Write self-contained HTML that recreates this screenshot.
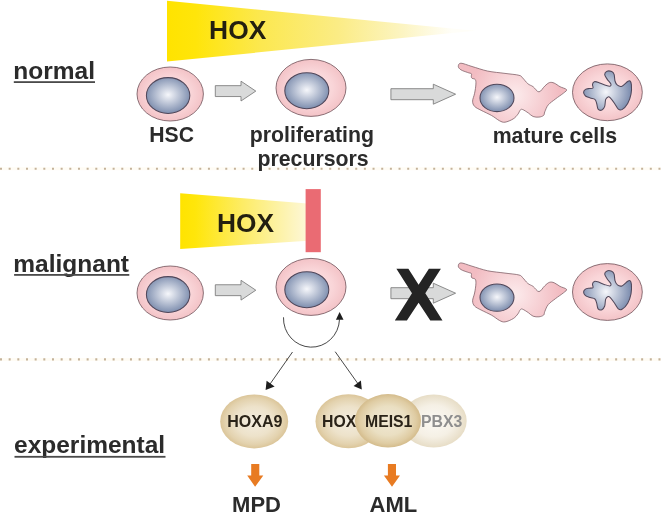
<!DOCTYPE html>
<html><head><meta charset="utf-8"><style>
html,body{margin:0;padding:0;background:#fff;}
svg{display:block;will-change:transform;}
text{font-family:"Liberation Sans",sans-serif;font-weight:bold;fill:#2b2b2b;}
</style></head><body>
<svg width="661" height="512" viewBox="0 0 661 512">
<defs>
  <linearGradient id="hox1" gradientUnits="userSpaceOnUse" x1="167" y1="0" x2="452" y2="0">
    <stop offset="0" stop-color="#ffe300"/>
    <stop offset="0.1" stop-color="#ffe50a"/>
    <stop offset="0.33" stop-color="#fce850"/>
    <stop offset="0.6" stop-color="#fbec85"/>
    <stop offset="0.82" stop-color="#fcf4c0"/>
    <stop offset="1" stop-color="#fffef8"/>
  </linearGradient>
  <linearGradient id="hox2" gradientUnits="userSpaceOnUse" x1="180" y1="0" x2="306" y2="0">
    <stop offset="0" stop-color="#ffe300"/>
    <stop offset="0.12" stop-color="#ffe60a"/>
    <stop offset="0.5" stop-color="#fdec66"/>
    <stop offset="1" stop-color="#fdf7d6"/>
  </linearGradient>
  <radialGradient id="ring" cx="0.5" cy="0.5" r="0.5">
    <stop offset="0" stop-color="#fce6e8"/>
    <stop offset="0.62" stop-color="#f9d5d8"/>
    <stop offset="1" stop-color="#f3c3c7"/>
  </radialGradient>
  <radialGradient id="nuc" cx="0.5" cy="0.48" r="0.55">
    <stop offset="0" stop-color="#f6f7fb"/>
    <stop offset="1" stop-color="#7788aa"/>
  </radialGradient>
  <radialGradient id="nucN" gradientUnits="userSpaceOnUse" cx="606" cy="92" r="26">
    <stop offset="0" stop-color="#f6f7fb"/>
    <stop offset="1" stop-color="#7788ab"/>
  </radialGradient>
  <radialGradient id="pinkg" gradientUnits="userSpaceOnUse" cx="515" cy="95" r="45">
    <stop offset="0" stop-color="#fcebec"/>
    <stop offset="1" stop-color="#f2bcc2"/>
  </radialGradient>
  <radialGradient id="tan" cx="0.5" cy="0.5" r="0.5">
    <stop offset="0" stop-color="#f3ede0"/>
    <stop offset="0.55" stop-color="#ede2ca"/>
    <stop offset="0.85" stop-color="#e3d2ae"/>
    <stop offset="1" stop-color="#dbc599"/>
  </radialGradient>
  <radialGradient id="tanM" cx="0.5" cy="0.5" r="0.5">
    <stop offset="0" stop-color="#f1e8d4"/>
    <stop offset="0.55" stop-color="#eadfc2"/>
    <stop offset="0.85" stop-color="#dfcca3"/>
    <stop offset="1" stop-color="#d4bc8c"/>
  </radialGradient>
  <radialGradient id="tanpale" cx="0.5" cy="0.5" r="0.5">
    <stop offset="0" stop-color="#fbf9f4"/>
    <stop offset="0.6" stop-color="#f5f0e5"/>
    <stop offset="1" stop-color="#e7ddc6"/>
  </radialGradient>
  <g id="cellA">
    <ellipse cx="0" cy="0" rx="33.2" ry="27" fill="url(#ring)" stroke="#6e5058" stroke-width="0.8"/>
    <ellipse cx="-2.1" cy="1.5" rx="21.7" ry="17.9" fill="url(#nuc)" stroke="#50475a" stroke-width="1.05"/>
  </g>
  <g id="cellB">
    <ellipse cx="0" cy="0" rx="35" ry="28.5" fill="url(#ring)" stroke="#6e5058" stroke-width="0.8"/>
    <ellipse cx="-4.2" cy="2.8" rx="22" ry="18" fill="url(#nuc)" stroke="#50475a" stroke-width="1.05"/>
  </g>
  <g id="arrowG">
    <path d="M0 -5.45 H25.7 V-9.9 L40.5 0 L25.7 9.9 V5.45 H0 Z" fill="#d9dada" stroke="#7a7a7a" stroke-width="0.85" stroke-linejoin="miter"/>
  </g>
  <g id="arrowL">
    <path d="M0 -5.5 H42.4 V-10 L64.7 0 L42.4 10 V5.5 H0 Z" fill="#d9dada" stroke="#7a7a7a" stroke-width="0.85"/>
  </g>
  <g id="mature">
    <path d="M460.9 63.2 C463.2 63.2 467.5 65.2 472.0 66.5 C476.5 67.8 482.2 69.9 487.7 71.1 C493.2 72.2 499.8 72.7 505.0 73.4 C510.2 74.1 516.1 74.5 519.0 75.3 C521.9 76.0 521.1 76.5 522.6 77.9 C524.1 79.3 526.0 82.2 527.8 83.7 C529.5 85.2 531.2 85.3 533.1 86.7 C535.0 88.1 537.0 92.0 539.0 91.9 C541.0 91.8 543.0 87.6 544.8 86.1 C546.5 84.5 547.9 83.1 549.5 82.6 C551.1 82.1 552.5 82.4 554.2 83.1 C556.0 83.8 558.0 85.6 560.0 86.7 C562.0 87.8 565.9 88.5 566.5 89.6 C567.1 90.7 565.4 91.5 563.5 93.1 C561.6 94.7 557.9 97.0 555.4 99.0 C552.9 101.0 550.1 102.7 548.3 104.8 C546.5 106.9 545.6 110.0 544.8 111.8 C544.0 113.6 544.6 114.5 543.6 115.4 C542.6 116.3 540.8 116.9 539.0 117.1 C537.2 117.3 534.9 117.2 533.1 116.5 C531.3 115.8 530.1 114.2 528.4 113.0 C526.6 111.8 524.0 110.0 522.6 109.5 C521.2 109.0 521.0 109.3 520.2 110.1 C519.4 110.9 519.1 112.7 517.9 114.2 C516.7 115.7 515.4 117.6 513.2 118.9 C511.1 120.2 507.3 121.9 505.0 122.2 C502.7 122.5 501.6 121.8 499.4 120.7 C497.2 119.6 494.7 117.2 491.6 115.5 C488.6 113.8 483.9 111.8 481.1 110.3 C478.3 108.8 476.0 107.9 474.6 106.4 C473.2 104.9 472.6 103.3 472.6 101.1 C472.6 98.9 474.1 96.1 474.6 93.3 C475.2 90.5 475.8 86.4 475.9 84.1 C476.0 81.8 475.9 80.6 475.3 79.6 C474.7 78.6 472.7 78.8 472.0 78.3 C471.3 77.8 471.4 77.1 471.3 76.3 C471.2 75.5 472.0 74.3 471.3 73.7 C470.6 73.1 469.1 73.1 467.4 72.4 C465.7 71.8 462.4 70.8 460.9 69.8 C459.4 68.8 458.3 67.6 458.3 66.5 C458.3 65.4 458.6 63.2 460.9 63.2 Z" fill="url(#pinkg)" stroke="#7a5a62" stroke-width="0.75" stroke-linejoin="round"/>
    <ellipse cx="497" cy="97.9" rx="17" ry="13.7" fill="url(#nuc)" stroke="#50475a" stroke-width="1.05"/>
    <ellipse cx="607.4" cy="92.3" rx="34.9" ry="28.4" fill="url(#ring)" stroke="#6e5058" stroke-width="0.8"/>
    <path d="M583.6 92.2 C583.6 91.1 584.6 90.0 585.5 89.4 C586.4 88.8 588.0 88.7 589.2 88.5 C590.5 88.3 592.5 88.7 593.0 88.0 C593.5 87.3 592.3 85.3 592.5 84.3 C592.7 83.2 593.4 82.0 594.4 81.7 C595.4 81.4 597.0 81.9 598.6 82.4 C600.2 82.9 602.3 84.1 604.2 84.7 C606.1 85.3 608.8 86.4 609.9 86.2 C611.0 86.0 611.3 85.0 610.8 83.8 C610.3 82.6 608.1 80.7 607.1 79.1 C606.1 77.5 604.7 75.7 604.7 74.4 C604.7 73.1 605.9 71.7 607.1 71.2 C608.3 70.7 610.5 71.1 611.7 71.6 C612.9 72.1 613.6 72.8 614.1 74.4 C614.6 76.0 614.5 79.2 615.0 81.0 C615.5 82.8 616.2 84.3 617.4 85.2 C618.6 86.1 620.3 86.8 622.0 86.2 C623.7 85.6 626.4 82.4 627.7 81.5 C629.0 80.6 629.4 80.5 630.0 81.0 C630.6 81.5 631.2 82.5 631.4 84.7 C631.6 86.9 631.6 91.0 631.0 94.1 C630.4 97.2 629.2 100.9 627.7 103.5 C626.2 106.1 623.6 108.7 622.0 109.6 C620.4 110.5 619.5 110.1 618.3 109.1 C617.1 108.1 615.9 105.4 614.6 103.5 C613.3 101.6 611.4 99.0 610.3 97.9 C609.2 96.8 608.8 96.6 608.0 96.9 C607.2 97.2 606.1 98.1 605.6 99.7 C605.1 101.3 605.3 104.6 604.7 106.3 C604.1 108.0 603.0 109.5 601.9 110.0 C600.8 110.5 599.0 110.2 598.1 109.1 C597.2 108.0 597.2 105.1 596.7 103.5 C596.2 101.9 596.0 100.2 594.9 99.3 C593.8 98.4 591.8 98.5 590.2 97.9 C588.6 97.4 586.6 97.0 585.5 96.0 C584.4 95.0 583.6 93.3 583.6 92.2 Z" fill="url(#nucN)" stroke="#50475a" stroke-width="1.05" stroke-linejoin="round"/>
  </g>
  <g id="dots">
    <line x1="0" y1="0" x2="661" y2="0" stroke="#fffcf5" stroke-width="3"/><line x1="0" y1="0" x2="661" y2="0" stroke="#c4b29a" stroke-width="2.1" stroke-dasharray="2 6.664"/>
  </g>
</defs>

<use href="#dots" y="168.8"/>
<!-- NORMAL ROW -->
<polygon points="167,0.7 475,30.8 167,61.5" fill="url(#hox1)"/>
<text x="209.1" y="39.1" font-size="26.4" style="fill:#231f10">HOX</text>
<text x="13.3" y="78.8" font-size="24.5">normal</text>
<rect x="13.8" y="81.2" width="81.2" height="1.8" fill="#4a4a4a"/>

<use href="#cellA" x="170.2" y="94"/>
<use href="#arrowG" x="215.3" y="91.1"/>
<use href="#cellB" x="311" y="87.9"/>
<use href="#arrowL" x="390.9" y="94.2"/>
<use href="#mature"/>

<text x="149.3" y="142.4" font-size="21.2">HSC</text>
<text x="249.8" y="142.4" font-size="21.3">proliferating</text>
<text x="257.4" y="166" font-size="21.3">precursors</text>
<text x="492.7" y="142.5" font-size="21.3">mature cells</text>


<!-- MALIGNANT ROW -->
<polygon points="180.2,193.3 320,204.5 320,240 180.2,249" fill="url(#hox2)"/>
<rect x="305.6" y="189.1" width="15.2" height="63.1" fill="#ea6b73"/>
<text x="217.0" y="232.3" font-size="26.3" style="fill:#231f10">HOX</text>
<text x="13.3" y="271.5" font-size="24.5">malignant</text>
<rect x="14.1" y="274.0" width="115.2" height="1.8" fill="#4a4a4a"/>

<use href="#cellA" x="170.2" y="293"/>
<use href="#arrowG" x="215.3" y="290.2"/>
<use href="#cellB" x="311" y="286.9"/>
<use href="#arrowL" x="390.9" y="293.2"/>
<g transform="translate(0,199.7)"><use href="#mature"/></g>
<polygon points="396.4,268.75 408.4,268.75 418.6,284.7 428.9,268.75 440.9,268.75 425.3,293.3 442.5,320.6 430.3,320.6 418.6,302.7 406.9,320.6 394.8,320.6 412,293.3" fill="#242424"/>

<!-- circular arrow -->
<path d="M283.5 317.3 A28 28.8 0 0 0 339.5 319.4" fill="none" stroke="#333" stroke-width="0.9"/>
<polygon points="339.6,312.1 335.9,319.8 343.5,319.8" fill="#1e1e1e"/>

<use href="#dots" y="359.4"/>

<!-- EXPERIMENTAL ROW -->
<line x1="292.5" y1="352" x2="269" y2="385.5" stroke="#333" stroke-width="0.9"/>
<polygon points="265.6,390 266.6,380.8 274.6,386.4" fill="#1e1e1e"/>
<line x1="335.2" y1="351.7" x2="358.5" y2="384.5" stroke="#333" stroke-width="0.9"/>
<polygon points="361.8,389.4 353.6,385.9 360.9,380.6" fill="#1e1e1e"/>

<ellipse cx="254.2" cy="421.4" rx="34" ry="27" fill="url(#tan)"/>
<text x="227.3" y="427.4" font-size="16" style="fill:#2a2318">HOXA9</text>

<ellipse cx="433.7" cy="421" rx="33" ry="26.6" fill="url(#tanpale)"/>
<ellipse cx="348.5" cy="421.2" rx="33" ry="27" fill="url(#tan)"/>
<text x="322" y="427.3" font-size="15.8" style="fill:#2a2318">HOX</text>
<ellipse cx="388" cy="420.8" rx="33" ry="26.7" fill="url(#tanM)"/>
<text x="365" y="427.4" font-size="15.8" style="fill:#2a2318">MEIS1</text>
<text x="421" y="427.4" font-size="15.8" style="fill:#8e8e8e">PBX3</text>

<text x="14" y="453.4" font-size="24.5">experimental</text>
<rect x="14.5" y="455.9" width="151" height="1.8" fill="#4a4a4a"/>

<path d="M251.2 463.9 H259.3 V475.4 H263.3 L255.1 486.7 L247.2 475.4 H251.2 Z" fill="#e87b22"/>
<path d="M387.9 463.9 H396 V475.4 H400 L392 486.7 L383.9 475.4 H387.9 Z" fill="#e87b22"/>
<text x="232.1" y="511.7" font-size="22">MPD</text>
<text x="369.5" y="511.7" font-size="22">AML</text>
</svg>
</body></html>
